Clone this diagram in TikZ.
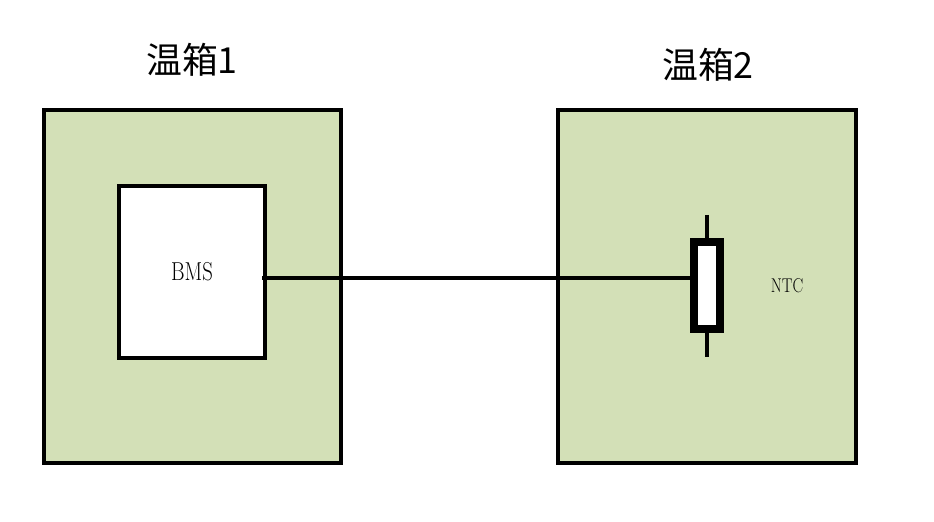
\documentclass[tikz,border=0pt]{standalone}
\usepackage{fontspec}
\newfontfamily\cjk{Noto Sans CJK SC}
\definecolor{boxgreen}{RGB}{211,224,183}
\begin{document}
\begin{tikzpicture}[x=1bp,y=-1bp,
  box/.style={draw=black,line width=4bp},
  wire/.style={draw=black,line width=4bp}]
\useasboundingbox (0,0) rectangle (934,522);
\path[box,fill=boxgreen] (44,110) rectangle (341,463);
\path[box,fill=boxgreen] (558,110) rectangle (856,463);
\path[box,fill=white] (119,186) rectangle (265,358);
\node[font=\fontsize{26}{30}\selectfont, xscale=0.8] (bms) at (192,272) {BMS};
\node[font=\cjk\fontsize{36}{40}\selectfont] (t1) at (192,60) {温箱1};
\node[font=\cjk\fontsize{36}{40}\selectfont] (t2) at (708,65) {温箱2};
\coordinate (a) at (262,278);
\coordinate (b) at (691,278);
\draw[wire] (a) -- (b);
\draw[line width=4bp] (707,215) -- (707,240);
\draw[line width=4bp] (707,331) -- (707,357);
\draw[line width=8bp,fill=white] (694,242) rectangle (720,329);
\node[font=\fontsize{20}{24}\selectfont, xscale=0.8] (ntc) at (787,286) {NTC};
\end{tikzpicture}
\end{document}
